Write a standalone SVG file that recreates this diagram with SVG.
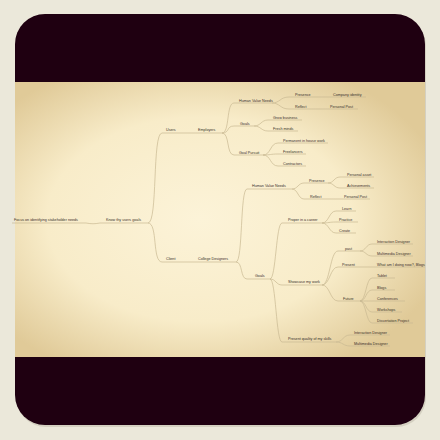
<svg xmlns="http://www.w3.org/2000/svg" width="440" height="440" viewBox="0 0 440 440">
<defs>
<radialGradient id="cream" cx="0.45" cy="0.5" r="0.62">
<stop offset="0" stop-color="#fcf3d8"/>
<stop offset="0.6" stop-color="#f8ecc9"/>
<stop offset="1" stop-color="#e0ca98"/>
</radialGradient>
<clipPath id="frameClip"><rect x="15" y="14" width="410" height="411" rx="30" ry="30"/></clipPath>
</defs>
<style>
text{font-family:"Liberation Sans",Arial,sans-serif;font-size:3.7px;fill:#362e29}
.u{stroke:#c9b992;stroke-width:0.7;fill:none}
.c{stroke:#c9b992;stroke-width:0.7;fill:none}
</style>
<rect width="440" height="440" fill="#ebe8da"/>
<rect x="16" y="16" width="410" height="411" rx="30" ry="30" fill="#bdb8a8" opacity="0.5"/>
<g clip-path="url(#frameClip)">
<rect x="15" y="14" width="410" height="411" fill="#1f0011"/>
<rect x="15" y="82" width="410" height="275" fill="url(#cream)"/>
</g>
<g id="connectors">
<path class="c" d="M86 223 C92 224 94 224 100 223"/>
<path class="c" d="M148 223 C158 223 152 133 162 133"/>
<path class="c" d="M148 223 C158 223 152 262 162 262"/>
<path class="c" d="M222 133 C230 133 226 103 234 103"/>
<path class="c" d="M222 133 C230 133 226 126 234 126"/>
<path class="c" d="M222 133 C230 133 226 155 234 155"/>
<path class="c" d="M272 103 C280 103 280 97 289 97"/>
<path class="c" d="M272 103 C280 103 280 109 289 109"/>
<path class="c" d="M254 126 C261 126 261 120 268 120"/>
<path class="c" d="M254 126 C261 126 261 131 268 131"/>
<path class="c" d="M263 155 C271 155 270 143 278 143"/>
<path class="c" d="M263 155 C271 155 270 154 278 154"/>
<path class="c" d="M263 155 C271 155 270 166 278 166"/>
<path class="c" d="M236 262 C243 262 240 189 247 189"/>
<path class="c" d="M236 262 C243 262 240 279 247 279"/>
<path class="c" d="M292 189 C298 189 298 183 304 183"/>
<path class="c" d="M292 189 C298 189 298 199 304 199"/>
<path class="c" d="M328 183 C334 183 334 177 340 177"/>
<path class="c" d="M328 183 C334 183 334 188 340 188"/>
<path class="c" d="M270 279 C276 279 276 223 282 223"/>
<path class="c" d="M270 279 C276 279 276 285 282 285"/>
<path class="c" d="M270 279 C276 279 276 342 282 342"/>
<path class="c" d="M322 223 C329 223 329 211 336 211"/>
<path class="c" d="M322 223 C329 223 329 222 336 222"/>
<path class="c" d="M322 223 C329 223 329 233 336 233"/>
<path class="c" d="M322 285 C330 285 330 251 338 251"/>
<path class="c" d="M322 285 C330 285 330 267 338 267"/>
<path class="c" d="M322 285 C330 285 330 301 338 301"/>
<path class="c" d="M360 251 C366 251 366 244 372 244"/>
<path class="c" d="M360 251 C366 251 366 256 372 256"/>
<path class="c" d="M360 301 C366 301 366 278 372 278"/>
<path class="c" d="M360 301 C366 301 366 290 372 290"/>
<path class="c" d="M360 301 C366 301 366 301 372 301"/>
<path class="c" d="M360 301 C366 301 366 312 372 312"/>
<path class="c" d="M360 301 C366 301 366 323 372 323"/>
<path class="c" d="M336 342 C343 342 343 335 350 335"/>
<path class="c" d="M336 342 C343 342 343 346 350 346"/>
</g>
<g id="n-root"><path class="u" d="M12 223 H86"/><text x="14" y="220.5">Focus on identifying stakeholder needs</text></g>
<g id="n-goals-main"><path class="u" d="M100 223 H148"/><text x="106" y="220.5">Know thy users goals</text></g>
<g id="n-users"><path class="u" d="M162 133 H186"/><text x="166" y="131">Users</text></g>
<g id="n-employers"><path class="u" d="M186 133 H222"/><text x="198" y="131">Employers</text></g>
<g id="n-hvn1"><path class="u" d="M234 103 H272"/><text x="239" y="101.5">Human Value Needs</text></g>
<g id="n-goals1"><path class="u" d="M234 126 H254"/><text x="240" y="124.5">Goals</text></g>
<g id="n-pursuit"><path class="u" d="M234 155 H263"/><text x="239" y="153.5">Goal Pursuit</text></g>
<g id="n-presence1"><path class="u" d="M289 97 H322"/><text x="295" y="95.5">Presence</text></g>
<g id="n-company"><path class="u" d="M322 97 H366"/><text x="333" y="95.5">Company identity</text></g>
<g id="n-reflect1"><path class="u" d="M289 109 H322"/><text x="295" y="107.5">Reflect</text></g>
<g id="n-post1"><path class="u" d="M322 109 H358"/><text x="330" y="107.5">Personal Post</text></g>
<g id="n-grow"><path class="u" d="M268 120 H302"/><text x="273" y="118.5">Grow business</text></g>
<g id="n-fresh"><path class="u" d="M268 131 H298"/><text x="273" y="129.5">Fresh minds</text></g>
<g id="n-perm"><path class="u" d="M278 143 H328"/><text x="283" y="141.5">Permanent in house work</text></g>
<g id="n-free"><path class="u" d="M278 154 H306"/><text x="283" y="152.5">Freelancers</text></g>
<g id="n-contr"><path class="u" d="M278 166 H306"/><text x="283" y="164.5">Contractors</text></g>
<g id="n-client"><path class="u" d="M162 262 H186"/><text x="166" y="260">Client</text></g>
<g id="n-college"><path class="u" d="M186 262 H236"/><text x="198" y="260">College Designers</text></g>
<g id="n-hvn2"><path class="u" d="M247 189 H292"/><text x="252" y="187">Human Value Needs</text></g>
<g id="n-presence2"><path class="u" d="M304 183 H328"/><text x="309" y="181.5">Presence</text></g>
<g id="n-reflect2"><path class="u" d="M304 199 H340"/><text x="310" y="197.5">Reflect</text></g>
<g id="n-asset"><path class="u" d="M340 177 H374"/><text x="347" y="175.5">Personal asset</text></g>
<g id="n-achieve"><path class="u" d="M340 188 H374"/><text x="347" y="186.5">Achievements</text></g>
<g id="n-post2"><path class="u" d="M340 199 H370"/><text x="344" y="197.5">Personal Post</text></g>
<g id="n-goals2"><path class="u" d="M247 279 H270"/><text x="255" y="277">Goals</text></g>
<g id="n-career"><path class="u" d="M282 223 H322"/><text x="288" y="221">Proper in a career</text></g>
<g id="n-learn"><path class="u" d="M336 211 H356"/><text x="342" y="209.5">Learn</text></g>
<g id="n-practice"><path class="u" d="M336 222 H358"/><text x="339" y="220.5">Practice</text></g>
<g id="n-create"><path class="u" d="M336 233 H356"/><text x="339" y="231.5">Create</text></g>
<g id="n-showcase"><path class="u" d="M282 285 H322"/><text x="288" y="283">Showcase my work</text></g>
<g id="n-past"><path class="u" d="M338 251 H360"/><text x="345" y="249.5">past</text></g>
<g id="n-present"><path class="u" d="M338 267 H372"/><text x="342" y="265.5">Present</text></g>
<g id="n-future"><path class="u" d="M338 301 H360"/><text x="343" y="299.5">Future</text></g>
<g id="n-inter1"><path class="u" d="M372 244 H413"/><text x="377" y="242.5">Interaction Designer</text></g>
<g id="n-multi1"><path class="u" d="M372 256 H413"/><text x="377" y="254.5">Multimedia Designer</text></g>
<g id="n-now"><path class="u" d="M372 267 H425"/><text x="377" y="265.5">What am I doing now?, Blogs</text></g>
<g id="n-tablet"><path class="u" d="M372 278 H395"/><text x="377" y="276.5">Tablet</text></g>
<g id="n-blogs"><path class="u" d="M372 290 H395"/><text x="377" y="288.5">Blogs</text></g>
<g id="n-conf"><path class="u" d="M372 301 H405"/><text x="377" y="299.5">Conferences</text></g>
<g id="n-work"><path class="u" d="M372 312 H402"/><text x="377" y="310.5">Workshops</text></g>
<g id="n-diss"><path class="u" d="M372 323 H413"/><text x="377" y="321.5">Dissertation Project</text></g>
<g id="n-quality"><path class="u" d="M282 342 H336"/><text x="288" y="340">Present quality of my skills</text></g>
<g id="n-inter2"><path class="u" d="M350 335 H390"/><text x="354" y="333.5">Interaction Designer</text></g>
<g id="n-multi2"><path class="u" d="M350 346 H390"/><text x="354" y="344.5">Multimedia Designer</text></g>
</svg>
